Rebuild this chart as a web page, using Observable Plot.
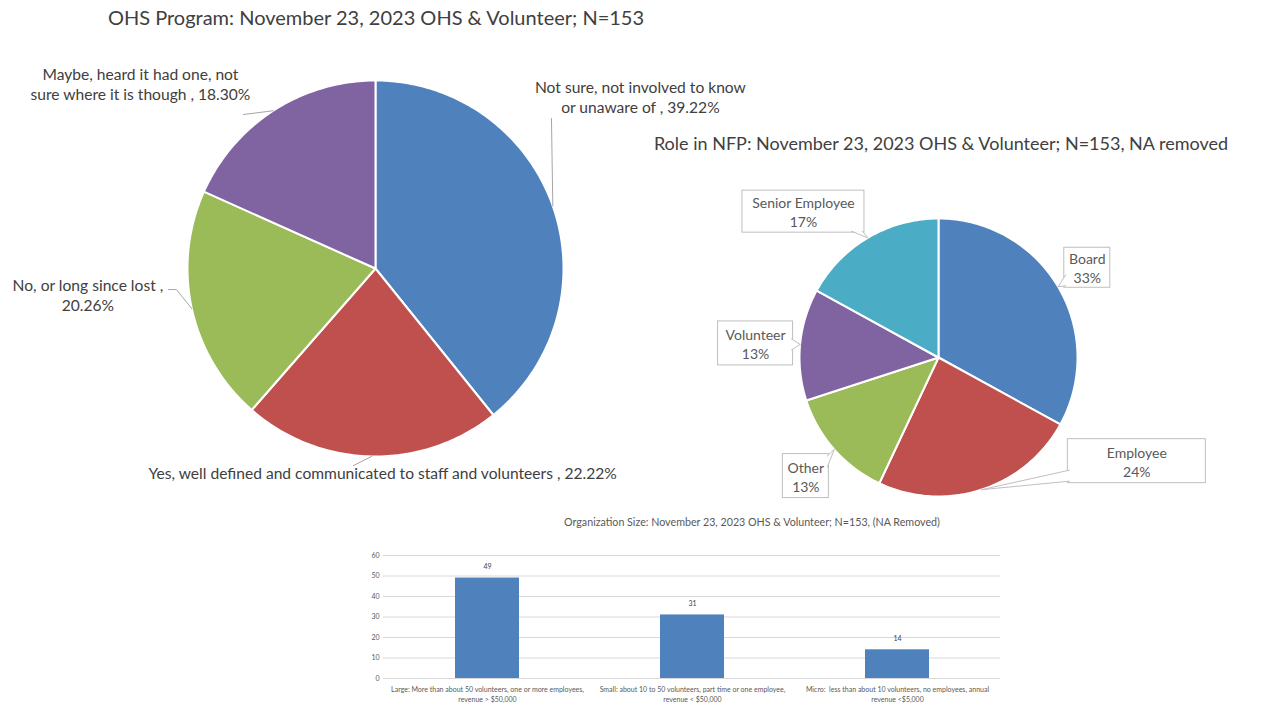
<!DOCTYPE html>
<html>
<head>
<meta charset="utf-8">
<script src="https://cdn.jsdelivr.net/npm/d3@7"></script>
<script src="https://cdn.jsdelivr.net/npm/@observablehq/plot@0.6"></script>
<style>
  html, body { margin: 0; padding: 0; background: #ffffff; }
  #page { position: relative; width: 1280px; height: 720px; overflow: hidden; font-family: Lato, "Liberation Sans", Arial, sans-serif; }
  .panel { position: absolute; }
  .title { position: absolute; white-space: nowrap; color: #404040; transform: translateX(-50%); }
</style>
</head>
<body>
<div id="page">
  <div class="title" id="t1" style="left:376px; top:5px; font-size:20px;">OHS Program: November 23, 2023 OHS &amp; Volunteer; N=153</div>
  <div class="title" id="t2" style="left:941px; top:132px; font-size:18px;">Role in NFP: November 23, 2023 OHS &amp; Volunteer; N=153, NA removed</div>
  <div class="title" id="t3" style="left:752px; top:515px; font-size:10.7px; color:#595959;">Organization Size: November 23, 2023 OHS &amp; Volunteer; N=153, (NA Removed)</div>
  <div class="panel" id="pie1" style="left:0px; top:0px;"></div>
  <div class="panel" id="pie2" style="left:640px; top:150px;"></div>
  <div class="panel" id="bars" style="left:332px; top:530px;"></div>
</div>
<script>
// ---------- DATA ----------
const ohsLabels = [
  "Not sure, not involved to know or unaware of",
  "Yes, well defined and communicated to staff and volunteers",
  "No, or long since lost",
  "Maybe, heard it had one, not sure where it is though"
];
const ohsValues = [39.22, 22.22, 20.26, 18.30];

const roleLabels = ["Board", "Employee", "Other", "Volunteer", "Senior Employee"];
const roleValues = [33, 24, 13, 13, 17];

const sizeLabels = [
  "Large: More than about 50 volunteers, one or more employees,\nrevenue > $50,000",
  "Small: about 10 to 50 volunteers, part time or one employee,\nrevenue < $50,000",
  "Micro:  less than about 10 volunteers, no employees, annual\nrevenue <$5,000"
];
const sizeValues = [49, 31, 14];
const sizeTicks = [0, 10, 20, 30, 40, 50, 60];

// ---------- STYLE / LAYOUT ----------
const officeColors = ["#4F81BD", "#C0504D", "#9BBB59", "#8064A2", "#4BACC6"];
const deg = Math.PI / 180;

// label placement for pie 1 (polar: angle in degrees clockwise from top, radius factor)
const ohsLayout = [
  {angle: 57.0, rf: 1.68, split: "know ", lead: [[0.936, 0.798]]},
  {angle: 178.0, rf: 1.086, split: null, lead: [[-0.117, -1.048]]},
  {angle: 264.8, rf: 1.536, split: "lost , ", lead: [[-1.059, -0.112], [-1.101, -0.112]]},
  {angle: 308.2, rf: 1.591, split: "not ", lead: [[-0.702, 0.819]]}
];
// callout boxes for pie 2 (polar centre, box size in px)
const roleLayout = [
  {angle: 58.9, rf: 1.25, w: 46, h: 40},
  {angle: 117.6, rf: 1.61, w: 138, h: 44},
  {angle: 228.2, rf: 1.28, w: 46, h: 44},
  {angle: 274.4, rf: 1.32, w: 75, h: 44},
  {angle: 317.2, rf: 1.43, w: 122, h: 42}
];

function pieSlices(names, values) {
  const total = d3.sum(values);
  const out = [];
  let a0 = 0;
  names.forEach((name, i) => {
    const a1 = a0 + (values[i] / total) * 2 * Math.PI;
    const n = Math.max(2, Math.ceil((a1 - a0) / deg));
    const pts = [{x: 0, y: 0}];
    for (let k = 0; k <= n; k++) {
      const a = a0 + (a1 - a0) * k / n;
      pts.push({x: Math.sin(a), y: Math.cos(a)});
    }
    pts.push({x: 0, y: 0});
    out.push({name, i, value: values[i], pts, a0, a1, mid: (a0 + a1) / 2});
    a0 = a1;
  });
  return out;
}
const polar = (a, rf) => ({x: rf * Math.sin(a * deg), y: rf * Math.cos(a * deg)});

// ---------- PIE 1 ----------
{
  const cx = 375, cy = 268, r = 188;
  const slices = pieSlices(ohsLabels, ohsValues);
  const texts = slices.map((s, i) => {
    const L = ohsLayout[i];
    let t = `${s.name} , ${s.value.toFixed(2)}%`;
    if (L.split) t = t.replace(L.split, L.split.trimEnd() + "\n");
    return {...polar(L.angle, L.rf), text: t};
  });
  const leaders = [];
  slices.forEach((s, i) => {
    leaders.push({k: i, x: Math.sin(s.mid), y: Math.cos(s.mid)});
    ohsLayout[i].lead.forEach(p => leaders.push({k: i, x: p[0], y: p[1]}));
  });
  const plot = Plot.plot({
    width: 660, height: 500,
    margin: 0,
    x: {domain: [-1, 1], range: [cx - r, cx + r], axis: null},
    y: {domain: [-1, 1], range: [cy + r, cy - r], axis: null},
    style: {fontFamily: "Lato, 'Liberation Sans', Arial, sans-serif", background: "transparent", overflow: "visible"},
    marks: [
      ...slices.map(s => Plot.line(s.pts, {x: "x", y: "y", fill: officeColors[s.i], stroke: "white", strokeWidth: 2, strokeLinejoin: "round"})),
      Plot.line(leaders, {x: "x", y: "y", z: "k", stroke: "#a6a6a6", strokeWidth: 1}),
      Plot.text(texts, {x: "x", y: "y", text: "text", fontSize: 15.6, fill: "#404040", lineHeight: 1.3})
    ]
  });
  document.getElementById("pie1").append(plot);
}

// ---------- PIE 2 ----------
{
  const cx = 298, cy = 207, r = 139;
  const slices = pieSlices(roleLabels, roleValues);
  const boxes = [], tris = [], wedges = [], texts = [];
  const g = 5.5 / r, inset = 1.5 / r;
  slices.forEach((s, i) => {
    const L = roleLayout[i];
    const c = polar(L.angle, L.rf);
    const hw = L.w / 2 / r, hh = L.h / 2 / r;
    boxes.push({x1: c.x - hw, x2: c.x + hw, y1: c.y - hh, y2: c.y + hh});
    texts.push({x: c.x, y: c.y, text: `${s.name}\n${s.value}%`});
    const tx = Math.sin(s.mid), ty = Math.cos(s.mid);
    const ndx = (tx - c.x) / hw, ndy = (ty - c.y) / hh;
    let b1, b2;
    if (Math.abs(ndx) > Math.abs(ndy)) {
      const xs = c.x + Math.sign(ndx) * (hw - inset);
      const m = Math.max(c.y - hh + g + 2 / r, Math.min(c.y + hh - g - 2 / r, ty));
      b1 = {x: xs, y: m - g}; b2 = {x: xs, y: m + g};
    } else {
      const ys = c.y + Math.sign(ndy) * (hh - inset);
      const m = Math.max(c.x - hw + g + 2 / r, Math.min(c.x + hw - g - 2 / r, tx));
      b1 = {x: m - g, y: ys}; b2 = {x: m + g, y: ys};
    }
    tris.push({k: i, x: b1.x, y: b1.y}, {k: i, x: tx, y: ty}, {k: i, x: b2.x, y: b2.y});
    wedges.push({k: i * 2, x: b1.x, y: b1.y}, {k: i * 2, x: tx, y: ty});
    wedges.push({k: i * 2 + 1, x: b2.x, y: b2.y}, {k: i * 2 + 1, x: tx, y: ty});
  });
  const plot = Plot.plot({
    width: 640, height: 370,
    margin: 0,
    x: {domain: [-1, 1], range: [cx - r, cx + r], axis: null},
    y: {domain: [-1, 1], range: [cy + r, cy - r], axis: null},
    style: {fontFamily: "Lato, 'Liberation Sans', Arial, sans-serif", background: "transparent", overflow: "visible"},
    marks: [
      ...slices.map(s => Plot.line(s.pts, {x: "x", y: "y", fill: officeColors[s.i], stroke: "white", strokeWidth: 2, strokeLinejoin: "round"})),
      Plot.rect(boxes, {x1: "x1", x2: "x2", y1: "y1", y2: "y2", fill: "white", stroke: "#bfbfbf", strokeWidth: 1}),
      Plot.line(tris, {x: "x", y: "y", z: "k", fill: "white", stroke: "none"}),
      Plot.line(wedges, {x: "x", y: "y", z: "k", stroke: "#bfbfbf", strokeWidth: 1}),
      Plot.text(texts, {x: "x", y: "y", text: "text", fontSize: 14, fill: "#595959", lineHeight: 1.35})
    ]
  });
  document.getElementById("pie2").append(plot);
}

// ---------- BAR CHART ----------
{
  const data = sizeLabels.map((label, i) => ({label, value: sizeValues[i]}));
  const plot = Plot.plot({
    width: 688, height: 190,
    marginLeft: 51, marginRight: 20, marginTop: 25, marginBottom: 42,
    style: {fontFamily: "Lato, 'Liberation Sans', Arial, sans-serif", background: "transparent", color: "#595959", overflow: "visible"},
    x: {domain: sizeLabels, paddingInner: 0.69, paddingOuter: 0.345, label: null},
    y: {domain: [0, 60], ticks: sizeTicks, label: null},
    marks: [
      Plot.gridY(sizeTicks, {stroke: "#d9d9d9", strokeOpacity: 1, strokeWidth: 1}),
      Plot.axisY(sizeTicks, {tickSize: 0, tickPadding: 4, fontSize: 7, fill: "#595959", label: null}),
      Plot.axisX({tickSize: 0, tickPadding: 6, fontSize: 7, fill: "#595959", lineHeight: 1.45, label: null}),
      Plot.barY(data, {x: "label", y: "value", fill: "#4F81BD"}),
      Plot.text(data, {x: "label", y: "value", text: d => String(d.value), dy: -11, fontSize: 7, fill: "#404040"})
    ]
  });
  document.getElementById("bars").append(plot);
}
</script>
</body>
</html>
